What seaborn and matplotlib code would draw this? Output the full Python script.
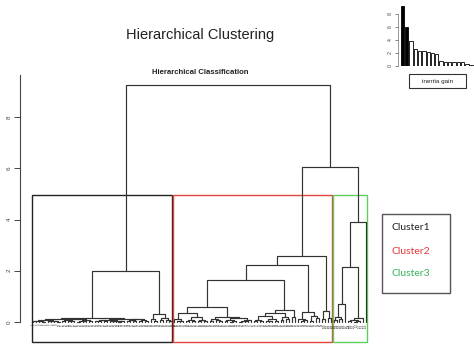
import numpy as np
import pandas as pd
import matplotlib
matplotlib.use("Agg")
import matplotlib.pyplot as plt
import seaborn as sns
from matplotlib.patches import Rectangle

# ---------------- data ----------------
title = "Hierarchical Clustering"
subtitle = "Hierarchical Classification"
cluster_names = ["Cluster1", "Cluster2", "Cluster3"]
cluster_text_colors = ["#222222", "#e4383a", "#35b35a"]
cluster_box_colors = ["#222222", "#e4463f", "#5ccf5c"]

# dendrogram of each cluster (newick-like: (left,right)height, x = one observation)
cluster1_tree = ("((((((x,x)0.02,(x,(x,x)0.01)0.03)0.05,((x,x)0.02,(x,(x,x)0.01)0.03)0.04)0.06,"
                 "(((x,x)0.03,((x,x)0.02,x)0.04)0.07,(((x,x)0.01,(x,x)0.02)0.05,(x,x)0.03)0.08)0.10)0.12,"
                 "(((((x,x)0.02,x)0.04,(x,x)0.03)0.06,((x,(x,x)0.02)0.03,((x,x)0.01,x)0.03)0.05)0.09,"
                 "(((x,x)0.03,(x,x)0.05)0.07,((x,x)0.02,(x,x)0.04)0.06)0.11)0.13)0.16,"
                 "((x,(x,x)0.05)0.12,((x,x)0.06,(x,(x,x)0.04)0.08)0.15)0.30)2.00")
cluster2_tree = ("((((((x,((x,x)0.03,x)0.05)0.12,(((x,x)0.02,(x,x)0.04)0.08,((x,x)0.03,(x,x)0.05)0.09)0.20)0.35,"
                 "(((x,x)0.05,(x,(x,x)0.04)0.08)0.12,(((x,x)0.02,((x,x)0.01,x)0.03)0.06,"
                 "(((x,x)0.01,(x,x)0.02)0.04,x)0.07)0.15)0.20)0.59,"
                 "(((((x,x)0.02,(x,x)0.03)0.06,((x,(x,x)0.02)0.04,(x,x)0.05)0.10)0.25,"
                 "((x,x)0.08,(x,x)0.12)0.20)0.36,(x,x)0.18)0.47)1.64,"
                 "((x,((x,x)0.03,x)0.06)0.10,((x,x)0.05,(x,x)0.17)0.22)0.40)2.24,"
                 "((x,x)0.10,(x,x)0.15)0.43)2.58")
cluster3_tree = ("(((((x,x)0.06,(x,x)0.12)0.21,x)0.70,"
                 "(((x,x)0.02,((x,x)0.01,x)0.03)0.06,x)0.15)2.15,x)3.90")
height_clusters23 = 6.05
height_root = 9.26

# inset: inertia gain
inertia_gain = [9.26, 6.05, 3.85, 2.6, 2.3, 2.3, 2.2, 2.05, 1.8,
                0.72, 0.65, 0.63, 0.62, 0.6, 0.58, 0.3, 0.15]
n_clusters = 3

main_ticks = [0, 2, 4, 6, 8]
inset_ticks = [0, 2, 4, 6, 8]

# ---------------- tree parsing / layout ----------------
def parse(s, i=0):
    if s[i] == "(":
        left, i = parse(s, i + 1)
        right, i = parse(s, i + 1)  # skip ','
        i += 1  # skip ')'
        j = i
        while j < len(s) and (s[j].isdigit() or s[j] == "."):
            j += 1
        return (float(s[i:j]), left, right), j
    return None, i + 1

full_tree = "(" + cluster1_tree + ",(" + cluster2_tree + "," + cluster3_tree + ")" + \
            f"{height_clusters23})" + f"{height_root}"
tree, _ = parse(full_tree)

rows = []
heights = []
counter = [0]

def layout(node):
    if node is None:
        x = counter[0]
        counter[0] += 1
        return float(x), 0.0
    h, l, r = node
    xl, yl = layout(l)
    xr, yr = layout(r)
    k = len(heights)
    heights.append(h)
    for o, (px, py) in enumerate([(xl, yl), (xl, h), (xr, h), (xr, yr)]):
        rows.append({"link": k, "order": o, "x": px, "y": py})
    return (xl + xr) / 2, h

layout(tree)
n_leaves = counter[0]
seg_df = pd.DataFrame(rows)
leaf_labels = [str(i + 1) for i in range(n_leaves)]
cluster_sizes = [t.count("x") for t in (cluster1_tree, cluster2_tree, cluster3_tree)]

# ---------------- figure ----------------
sns.set_theme(style="white")
plt.rcParams["font.family"] = ["Liberation Sans", "DejaVu Sans"]

W, H = 474, 352
fig = plt.figure(figsize=(W / 100, H / 100), dpi=100)
fig.patch.set_facecolor("white")

def px_axes(l, t, r, b):
    return fig.add_axes([l / W, 1 - b / H, (r - l) / W, (b - t) / H])

ax = px_axes(20, 75, 380, 342)
sns.lineplot(data=seg_df, x="x", y="y", units="link", estimator=None, sort=False,
             color="#333333", linewidth=0.85, ax=ax, legend=False)
ax.set_xlim(-4.41, 117.75)
ax.set_ylim(-0.781, 9.648)
ax.set_xlabel("")
ax.set_ylabel("")
ax.set_xticks([])
ax.set_yticks(main_ticks)
ax.set_yticklabels([str(t) for t in main_ticks])
ax.tick_params(axis="y", labelrotation=90, labelsize=4.5, length=4, width=0.7,
               color="#444444", labelcolor="#444444", pad=2, left=True)
for side in ["top", "right", "bottom"]:
    ax.spines[side].set_visible(False)
ax.spines["left"].set_bounds(0, 9.648)
ax.spines["left"].set_color("#444444")
ax.spines["left"].set_linewidth(0.8)
ax.patch.set_alpha(0)

for i, lab in enumerate(leaf_labels):
    ax.text(i, -0.06, lab, rotation=90, ha="center", va="top", fontsize=1.8,
            color="#222222")

# cluster rectangles
sorted_h = sorted(heights, reverse=True)
box_top = np.mean(sorted_h[n_clusters - 2:n_clusters])
start = 0
for size, col in zip(cluster_sizes, cluster_box_colors):
    end = start + size - 1
    ax.add_patch(Rectangle((start - 0.34, -0.781), (end + 0.33) - (start - 0.34),
                           box_top + 0.781, fill=False, edgecolor=col, linewidth=1.0,
                           clip_on=False))
    start = end + 1

fig.text(200 / W, 1 - 35 / H, title, ha="center", va="center", fontsize=10.5,
         color="#222222")
fig.text(200 / W, 1 - 72 / H, subtitle, ha="center", va="center", fontsize=5.6,
         fontweight="bold", color="#222222")

# legend box
fig.patches.append(Rectangle((382 / W, 1 - 293 / H), 68 / W, 79 / H, transform=fig.transFigure,
                             fill=False, edgecolor="#555555", linewidth=1.0))
for name, col, ypx in zip(cluster_names, cluster_text_colors, [227, 251, 274]):
    fig.text(391 / W, 1 - ypx / H, name, ha="left", va="center", fontsize=7.5,
             color=col, family=["Lato", "DejaVu Sans"])

# inset: inertia gain
ax2 = px_axes(398, 3.6, 474, 66)
bar_df = pd.DataFrame({
    "rank": [str(i + 1) for i in range(len(inertia_gain))],
    "gain": inertia_gain,
    "kind": ["cut" if i < n_clusters - 1 else "rest" for i in range(len(inertia_gain))],
})
sns.barplot(data=bar_df, x="rank", y="gain", hue="kind", dodge=False,
            palette={"cut": "black", "rest": "white"}, edgecolor="black",
            linewidth=0.6, width=0.77, ax=ax2, legend=False)
ax2.set_xlim(-1.02, 16.65)
ax2.set_ylim(0, 9.6)
ax2.set_xlabel("")
ax2.set_ylabel("")
ax2.set_xticks([])
ax2.set_yticks(inset_ticks)
ax2.set_yticklabels([str(t) for t in inset_ticks])
ax2.tick_params(axis="y", labelrotation=90, labelsize=3.8, length=2.5, width=0.5,
                color="#555555", labelcolor="#444444", pad=1.5, left=True)
for side in ["top", "right", "bottom"]:
    ax2.spines[side].set_visible(False)
ax2.spines["left"].set_bounds(0, 8)
ax2.spines["left"].set_color("#888888")
ax2.spines["left"].set_linewidth(0.6)
ax2.patch.set_alpha(0)

fig.patches.append(Rectangle((409 / W, 1 - 88 / H), 57 / W, 14 / H, transform=fig.transFigure,
                             fill=False, edgecolor="#333333", linewidth=0.8))
fig.text(437.5 / W, 1 - 81 / H, "inertia gain", ha="center", va="center", fontsize=4.6,
         color="#222222")

fig.savefig("out.png", dpi=100, facecolor="white")
